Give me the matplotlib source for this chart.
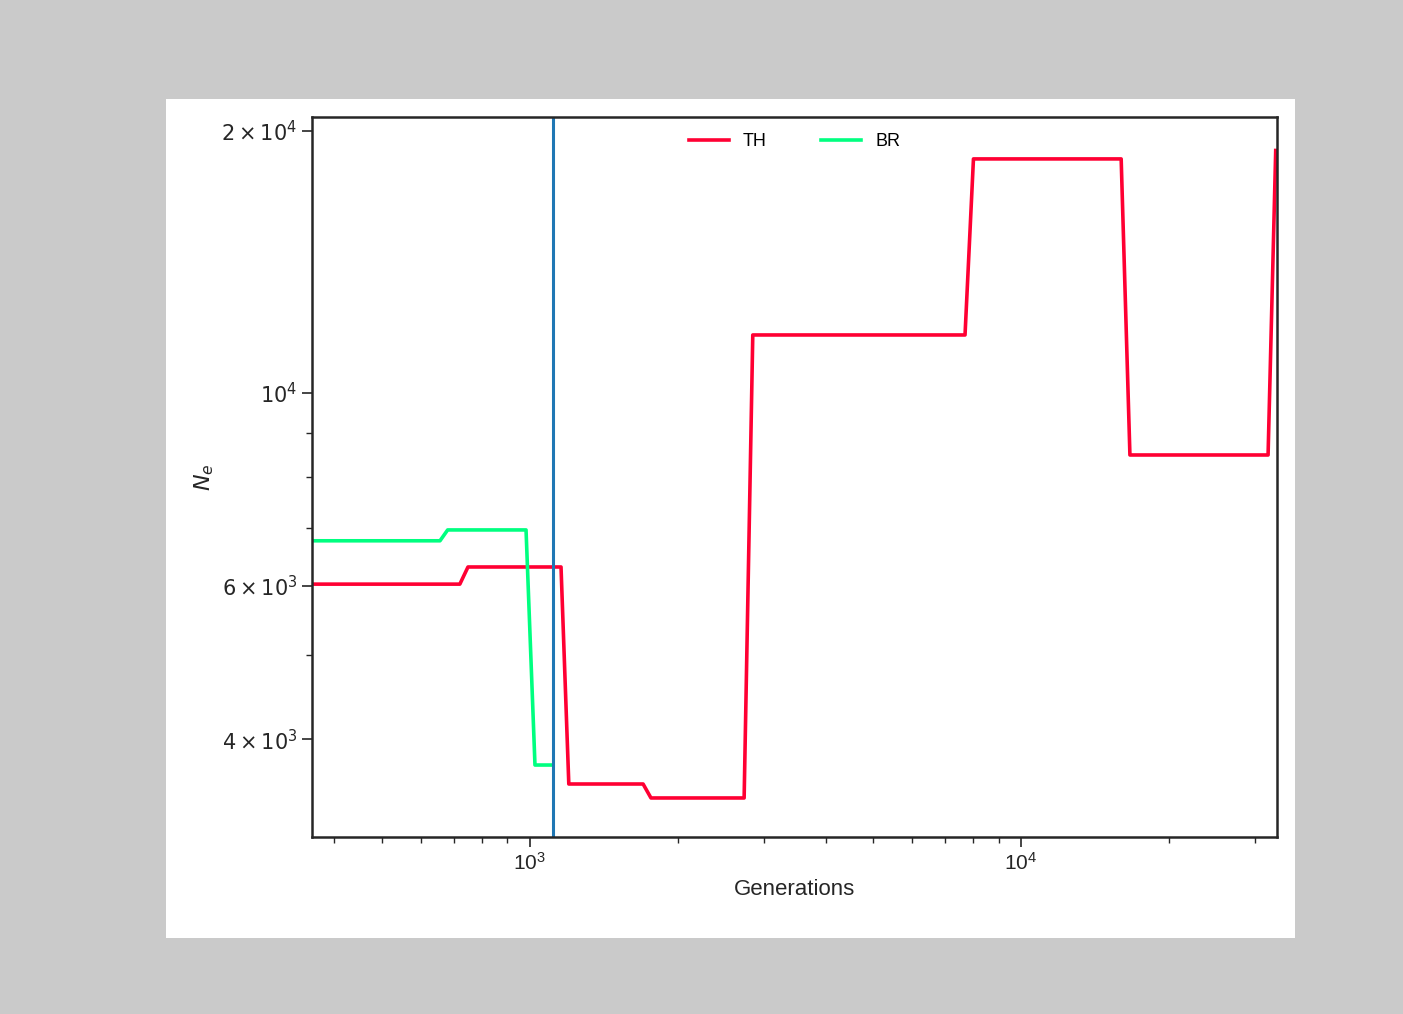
import matplotlib
matplotlib.use("Agg")
import matplotlib.pyplot as plt
from matplotlib.patches import Rectangle
from matplotlib.ticker import FixedLocator, FixedFormatter, NullFormatter

plt.rcParams['font.family'] = ['Liberation Sans', 'DejaVu Sans']

# step curves (generations, Ne)
th_gen = [360, 720, 748, 1157, 1200, 1700, 1764, 2730, 2843, 7690, 8000, 15990, 16660, 31840, 33000]
th_ne = [6030, 6030, 6310, 6310, 3553, 3553, 3424, 3424, 11660, 11660, 18580, 18580, 8487, 8487, 19000]
br_gen = [360, 656, 680, 982, 1024, 1108]
br_ne = [6763, 6763, 6960, 6960, 3736, 3736]
split_gen = 1114

y_major = [4e3, 6e3, 1e4, 2e4]
y_labels = [r'$4\times10^{3}$', r'$6\times10^{3}$', r'$10^{4}$', r'$2\times10^{4}$']
y_minor = [5e3, 7e3, 8e3, 9e3]

fig = plt.figure(figsize=(14.03, 10.14), dpi=100, facecolor='#cacaca')
fig.patches.append(Rectangle((166/1403, 1-938/1014), (1295-166)/1403, (938-99)/1014,
                             transform=fig.transFigure, facecolor='white', edgecolor='none', zorder=-10))
ax = fig.add_axes([312/1403, 1-837/1014, 965/1403, 720/1014])
ax.set_zorder(1)

ax.plot(th_gen, th_ne, color='#ff0033', lw=2.6, label='TH')
ax.plot(br_gen, br_ne, color='#00ff80', lw=2.6, label='BR')
ax.axvline(split_gen, color='#1f77b4', lw=2.2)

ax.set_xscale('log')
ax.set_yscale('log')
ax.set_xlim(360, 33200)
ax.set_ylim(3088, 20760)

ax.yaxis.set_major_locator(FixedLocator(y_major))
ax.yaxis.set_major_formatter(FixedFormatter(y_labels))
ax.yaxis.set_minor_locator(FixedLocator(y_minor))
ax.yaxis.set_minor_formatter(NullFormatter())

for s in ax.spines.values():
    s.set_color('#262626')
    s.set_linewidth(1.8)
ax.tick_params(which='major', length=7, width=1.2, colors='#262626', labelsize=15)
ax.tick_params(which='minor', length=4, width=1.0, colors='#262626')

ax.set_xlabel('Generations', fontsize=16, color='#262626')
ax.set_ylabel('$N_e$', fontsize=16, color='#262626')
ax.legend(loc='upper center', ncol=2, frameon=False, fontsize=13, handlelength=2.2, columnspacing=3)

fig.savefig('out.png', dpi=100, facecolor=fig.get_facecolor())
